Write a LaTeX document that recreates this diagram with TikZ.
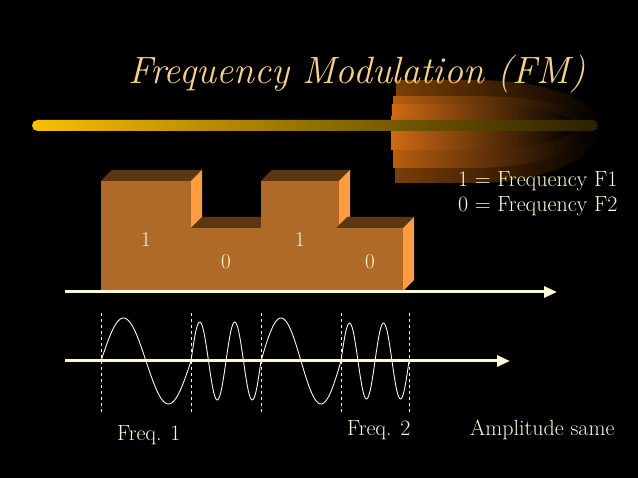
\documentclass[tikz,border=0pt]{standalone}
\usetikzlibrary{arrows.meta}
\definecolor{cream}{HTML}{FFF8D8}
\definecolor{titlecol}{HTML}{F5D18C}
\definecolor{frontcol}{HTML}{B06A28}
\definecolor{topcol}{HTML}{5B3813}
\definecolor{sidecol}{HTML}{FF9C40}
\definecolor{gold}{HTML}{F9C000}
\definecolor{goldmid}{HTML}{B58600}
\definecolor{golddark}{HTML}{2A2000}
\definecolor{fanA}{HTML}{7A3E08}
\definecolor{fanB}{HTML}{B85E10}
\definecolor{fanC}{HTML}{D06A14}
\tikzset{
  txt/.style={text=cream, font=\fontsize{22}{26}\selectfont, inner sep=0pt},
  bit/.style={text=cream, font=\fontsize{21}{24}\selectfont, inner sep=0pt},
  axisarrow/.style={draw=cream, line width=3pt, -{Triangle[length=13pt,width=11pt]}},
  divider/.style={draw=cream, line width=0.8pt, dash pattern=on 3pt off 3pt},
  wave/.style={draw=cream, line width=0.9pt, line join=round},
}
\newcommand{\mybox}[3]{% x1 x2 ytop
  \fill[frontcol] (#1,#3) rectangle (#2,291);
  \fill[topcol] (#1,#3) -- (#1+11,#3-11) -- (#2+11,#3-11) -- (#2,#3) -- cycle;
  \fill[sidecol] (#2,#3) -- (#2+11,#3-11) -- (#2+11,280) -- (#2,291) -- cycle;
}
\begin{document}
\begin{tikzpicture}[x=1pt,y=-1pt]
\fill[black] (0,0) rectangle (638,478);
\useasboundingbox (0,0) rectangle (638,478);
% fan
\shade[left color=fanA, right color=black] (396,80) -- (470,80) .. controls (560,80) and (602,105) .. (602,126) .. controls (602,150) and (560,183) .. (470,183) -- (395,183) -- cycle;
\shade[left color=fanB, right color=black] (393,96) -- (470,96) .. controls (550,96) and (592,110) .. (592,126) .. controls (592,145) and (550,168) .. (470,168) -- (393,168) -- cycle;
\shade[left color=fanC, right color=black] (392,104) -- (470,104) .. controls (540,104) and (575,115) .. (575,126) .. controls (575,138) and (540,150) .. (470,150) -- (391,150) -- cycle;
% swoosh
\shade[left color=gold, middle color=goldmid, right color=golddark, rounded corners=5.5pt] (32,120) rectangle (598,131);
% title
\node[text=titlecol, font=\fontsize{38}{45}\selectfont\itshape, anchor=base, inner sep=0pt] (title) at (357,84) {Frequency Modulation (FM)};
% boxes
\mybox{101}{191}{181}
\mybox{191}{261}{228}
\mybox{261}{339}{181}
\mybox{336}{403}{228}
\node[bit] (b1) at (146,240) {1};
\node[bit] (b2) at (226,262) {0};
\node[bit] (b3) at (300,240) {1};
\node[bit] (b4) at (370,262) {0};
% axes
\coordinate (a1s) at (65,292);
\coordinate (a1e) at (557,292);
\coordinate (a2s) at (65,361);
\coordinate (a2e) at (510,361);
\draw[axisarrow] (a1s) -- (a1e);
% dividers
\foreach \xx/\nm in {101/d1,191/d2,261/d3,341/d4,409/d5}{
  \coordinate (\nm t) at (\xx,313);
  \coordinate (\nm b) at (\xx,413);
  \draw[divider] (\nm t) -- (\nm b);
}
\draw[axisarrow] (a2s) -- (a2e);
% waveform
\draw[wave] plot[domain=101:191, samples=80, smooth] (\x, {361-43*sin((\x-101)/90*360)})
  -- plot[domain=191:261, samples=80, smooth] (\x, {361-39*sin((\x-191)/35*360)})
  -- plot[domain=261:341, samples=80, smooth] (\x, {361-43*sin((\x-261)/80*360)})
  -- plot[domain=341:409, samples=80, smooth] (\x, {361-38*sin((\x-341)/34*360)});
% legend and labels
\node[txt, anchor=base west] (l1) at (458,187) {1 = Frequency F1};
\node[txt, anchor=base west] (l2) at (458,212) {0 = Frequency F2};
\node[txt, anchor=base west] (f1) at (117,441) {Freq. 1};
\node[txt, anchor=base west] (f2) at (347,436) {Freq. 2};
\node[txt, anchor=base west] (amp) at (470,436) {Amplitude same};
\end{tikzpicture}
\end{document}
